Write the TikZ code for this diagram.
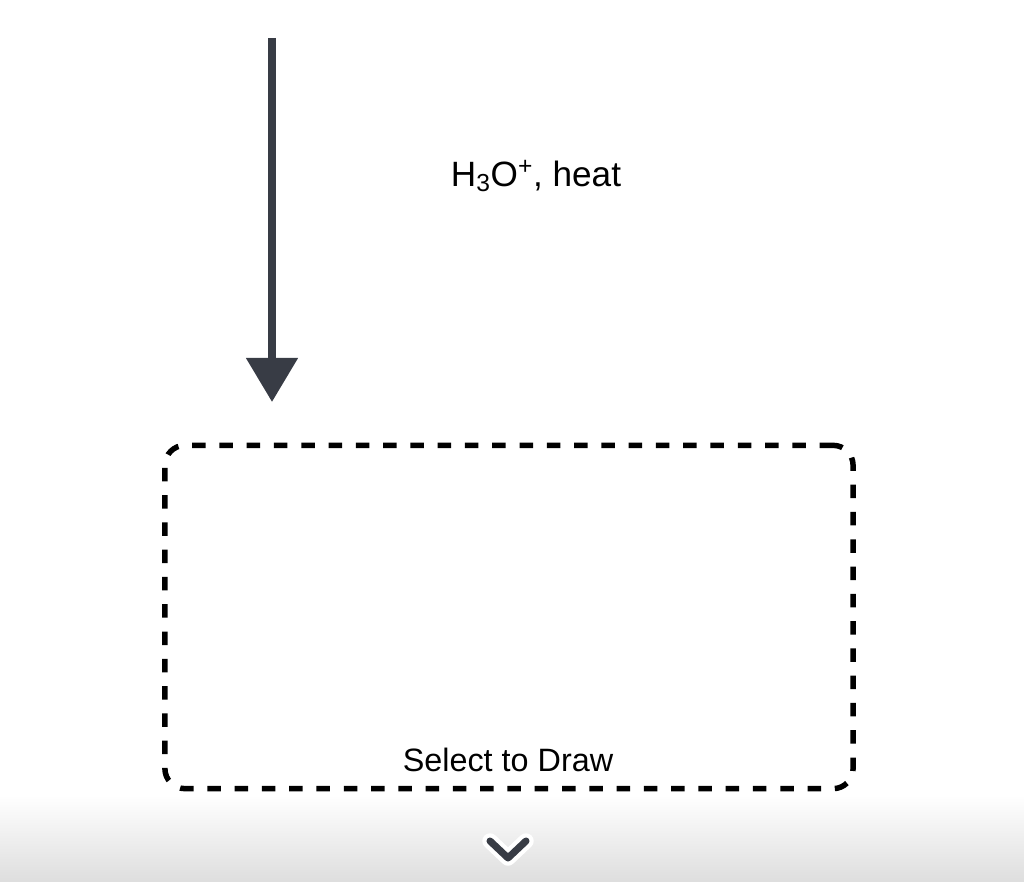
\documentclass[tikz,border=0pt]{standalone}
\usepackage{fontspec}
\setmainfont{Liberation Sans}
\usetikzlibrary{positioning}
\usetikzlibrary{arrows.meta}
\definecolor{arrowgray}{HTML}{383C45}
\definecolor{bargray}{HTML}{DEDEDE}

\begin{document}
\begin{tikzpicture}[x=0.025cm, y=0.025cm,
	every node/.style={text=black},
	reagent/.style={font=\fontsize{25}{30}\selectfont},
	drawbox/.style={draw=black, line width=3.9pt, dash pattern=on 9.6pt off 9.8pt, rounded corners=0.5cm, minimum width=17.2cm, minimum height=8.58cm},
	hint/.style={font=\fontsize{23}{28}\selectfont}]
	\useasboundingbox (0,0) rectangle (1024,881);
	
	% Bottom bar
	\shade[top color=white, bottom color=bargray] (0,0) rectangle (1024,86);
	\coordinate (chevl) at (490,40);
	\coordinate (chevm) at (508,23);
	\coordinate (chevr) at (526,40);
	\draw[white, line width=11pt, line cap=round, line join=round] (chevl) -- (chevm) -- (chevr);
	\draw[arrowgray, line width=5pt, line cap=round, line join=round] (chevl) -- (chevm) -- (chevr);
	
	% Nodes
	\coordinate (start) at (272,843);
	\coordinate (tip) at (272,479);
	\node[reagent] (cond) at (536,705) {H\textsubscript{3}O\textsuperscript{+}, heat};
	\node[drawbox] (box) at (509,264) {};
	\node[hint] (select) at (508,121) {Select to Draw};
	
	% Arrows
	\draw[arrowgray, line width=5.7pt, -{Triangle[length=1.1cm, width=1.25cm]}] (start) -- (tip);
\end{tikzpicture}
\end{document}
